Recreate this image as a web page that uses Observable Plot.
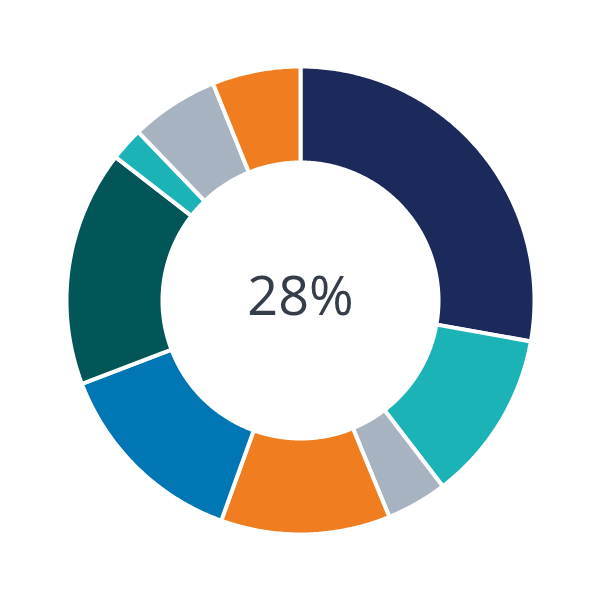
<!DOCTYPE html>
<html><head><meta charset="utf-8">
<script src="https://cdn.jsdelivr.net/npm/d3@7"></script>
<script src="https://cdn.jsdelivr.net/npm/@observablehq/plot@0.6"></script>
<style>body{margin:0;background:#fff}</style></head>
<body><div id="chart"></div>
<script>
const segments = ["S1", "S2", "S3", "S4", "S5", "S6", "S7", "S8", "S9"];
const values = [27.8, 11.8, 4.2, 11.7, 13.7, 16.3, 2.3, 6.1, 6.1];
const colors = ["#1b2a5b", "#1bb3b5", "#a8b3c1", "#f07e21", "#0076b5", "#025657", "#1bb3b5", "#a8b3c1", "#f07e21"];
const centerLabel = ["28%"];

const R_OUT = 234, R_IN = 138;
const arcs = d3.pie().sort(null).value(d => d)(values);
const pts = [];
arcs.forEach((p, i) => {
  const n = Math.max(4, Math.ceil((p.endAngle - p.startAngle) / 0.01));
  const ring = [];
  for (let k = 0; k <= n; k++) {
    const a = p.startAngle + (p.endAngle - p.startAngle) * k / n;
    ring.push([R_OUT * Math.sin(a), R_OUT * Math.cos(a)]);
  }
  for (let k = n; k >= 0; k--) {
    const a = p.startAngle + (p.endAngle - p.startAngle) * k / n;
    ring.push([R_IN * Math.sin(a), R_IN * Math.cos(a)]);
  }
  ring.push(ring[0]);
  ring.forEach(([x, y]) => pts.push({seg: segments[i], x, y}));
});

const chart = Plot.plot({
  width: 600, height: 600, margin: 0,
  x: {domain: [-300, 300], axis: null},
  y: {domain: [-300, 300], axis: null},
  color: {domain: segments, range: colors},
  marks: [
    Plot.line(pts, {x: "x", y: "y", z: "seg", fill: "seg", stroke: "white", strokeWidth: 4, strokeLinejoin: "miter", strokeMiterlimit: 10}),
    Plot.text(centerLabel, {x: () => 0, y: () => 0, text: d => d, fontSize: 54, fill: "#343d48", fontFamily: "Open Sans", dy: -3})
  ]
});
document.getElementById("chart").appendChild(chart);
</script>
</body></html>
